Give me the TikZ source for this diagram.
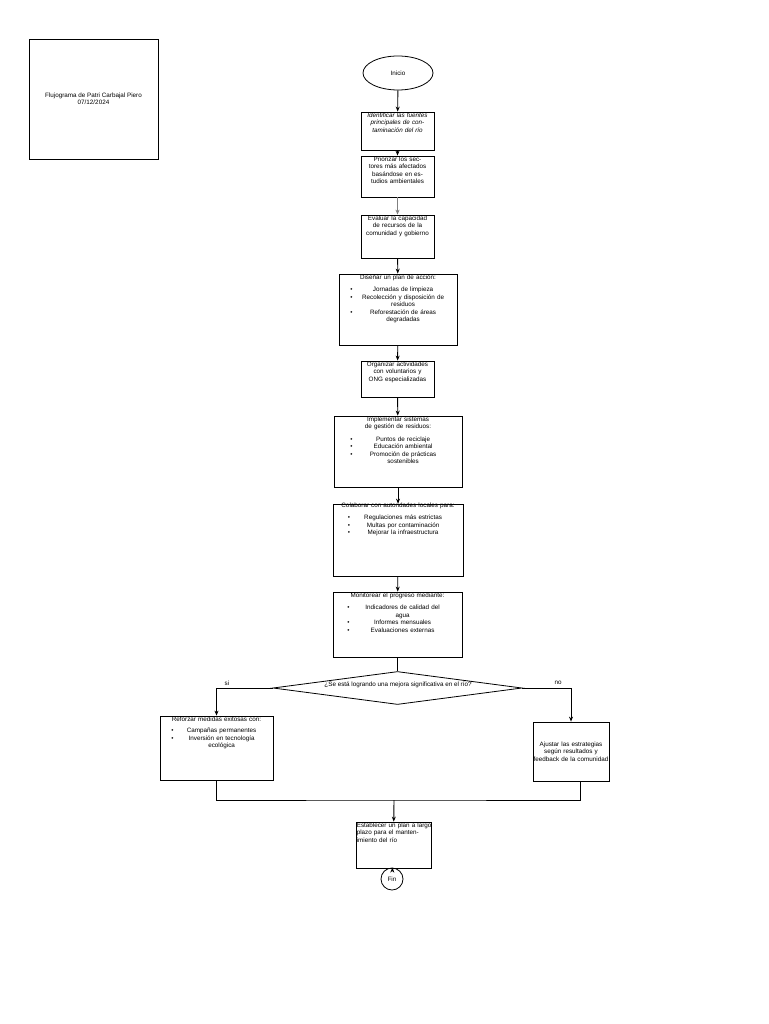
\documentclass[tikz,border=0pt]{standalone}
\usepackage{fontspec}
\setmainfont{Liberation Sans}
\usepackage{array}
\usetikzlibrary{shapes.geometric,arrows.meta}
\newcolumntype{C}[1]{>{\centering\arraybackslash}p{#1}}
\newcommand{\lst}[2]{\begin{tabular}{@{}c@{\hspace{8pt}}C{#1}@{}}#2\end{tabular}}
\begin{document}
\begin{tikzpicture}[x=1pt,y=-1pt,
  box/.style={draw,line width=0.8pt,inner sep=0pt},
  txt/.style={font=\fontsize{6.3}{7.4}\selectfont,align=center,inner sep=1pt},
  arr/.style={-{Stealth[length=5pt,width=4pt]},line width=0.9pt},
  ln/.style={line width=0.8pt}]
\useasboundingbox (0,0) rectangle (768,1024);
\fill[white] (0,0) rectangle (768,1024);
% title
\node[box,minimum width=129,minimum height=120] (t) at (93.5,99) {};
\node[txt] at (t) {Flujograma de Patri Carbajal Piero\\07/12/2024};
% start
\node[draw,ellipse,line width=0.8pt,minimum width=70,minimum height=34,txt] (s) at (398,73) {Inicio};
\node[box,minimum width=73,minimum height=38] (b1) at (397.5,131) {};
\node[txt,anchor=north,text width=73] at (b1.north) {\itshape Identificar las fuentes principales de contaminación del río};
\node[box,minimum width=73,minimum height=41] (b2) at (397.5,176.5) {};
\node[txt,anchor=north,text width=73] at (b2.north) {Priorizar los sectores más afectados basándose en estudios ambientales};
\node[box,minimum width=73,minimum height=43] (b3) at (397.5,236.5) {};
\node[txt,anchor=north,text width=73] at (b3.north) {Evaluar la capacidad de recursos de la comunidad y gobierno};
\node[box,minimum width=118,minimum height=71] (b4) at (398,309.5) {};
\node[txt,anchor=north,text width=118] at (b4.north) {Diseñar un plan de acción:\\[5pt]\lst{85pt}{\textbullet & Jornadas de limpieza\\ \textbullet & Recolección y disposición de residuos\\ \textbullet & Reforestación de áreas degradadas}};
\node[box,minimum width=73,minimum height=36] (b5) at (397.5,379) {};
\node[txt,anchor=north,text width=73] at (b5.north) {Organizar actividades con voluntarios y ONG especializadas};
\node[box,minimum width=128,minimum height=71] (b6) at (398,451.5) {};
\node[txt,anchor=north,text width=128] at (b6.north) {Implementar sistemas de gestión de residuos:\\[5pt]\lst{85pt}{\textbullet & Puntos de reciclaje\\ \textbullet & Educación ambiental\\ \textbullet & Promoción de prácticas sostenibles}};
\node[box,minimum width=130,minimum height=72] (b7) at (398,540) {};
\node[txt,anchor=north,text width=120] at ([yshift=2]b7.north) {Colaborar con autoridades locales para:\\[5pt]\lst{90pt}{\textbullet & Regulaciones más estrictas\\ \textbullet & Multas por contaminación\\ \textbullet & Mejorar la infraestructura}};
\node[box,minimum width=129,minimum height=65] (b8) at (397.5,624.5) {};
\node[txt,anchor=north,text width=129] at (b8.north) {Monitorear el progreso mediante:\\[5pt]\lst{90pt}{\textbullet & Indicadores de calidad del agua\\ \textbullet & Informes mensuales\\ \textbullet & Evaluaciones externas}};
\node[draw,diamond,aspect=7.5,line width=0.8pt,minimum width=249,minimum height=33,inner sep=0pt] (d) at (397.5,688) {};
\node[txt] at (398,685) {¿Se está logrando una mejora significativa en el río?};
\node[txt] at (227,683) {si};
\node[txt] at (558,683) {no};
\node[box,minimum width=113,minimum height=64] (l) at (216.5,748) {};
\node[txt,anchor=north,text width=113] at (l.north) {Reforzar medidas exitosas con:\\[5pt]\lst{80pt}{\textbullet & Campañas permanentes\\ \textbullet & Inversión en tecnología ecológica}};
\node[box,minimum width=76,minimum height=59] (r) at (571,751.5) {};
\node[txt,text width=76] at (r) {Ajustar las estrategias según resultados y feedback de la comunidad};
\node[box,minimum width=75,minimum height=46] (f) at (393.5,845) {};
\node[txt,anchor=north west,text width=75,align=left] at (f.north west) {Establecer un plan a largo plazo para el mantenimiento del río};
\node[draw,circle,line width=0.8pt,minimum size=22,inner sep=0pt,txt] (e) at (392,879) {Fin};
% connectors
\draw[arr] (s) -- (b1);
\draw[arr] (b1) -- (b2);
\draw[arr,gray] (b2) -- (b3);
\draw[arr] (b3) -- (b4);
\draw[arr] (b4) -- (b5);
\draw[arr] (b5) -- (b6);
\draw[arr] (b6) -- (b7);
\draw[arr] (b7) -- (b8);
\draw[ln] (b8) -- (d);
\draw[arr] (d.west) -| (l.north);
\draw[arr] (d.east) -| (r.north);
\coordinate (m) at (394,800);
\draw[ln] (l.south) |- (m) -| ([xshift=9]r.south);
\draw[arr] (m) -- (f);
\draw[arr] (f) -- (e);
\end{tikzpicture}
\end{document}
